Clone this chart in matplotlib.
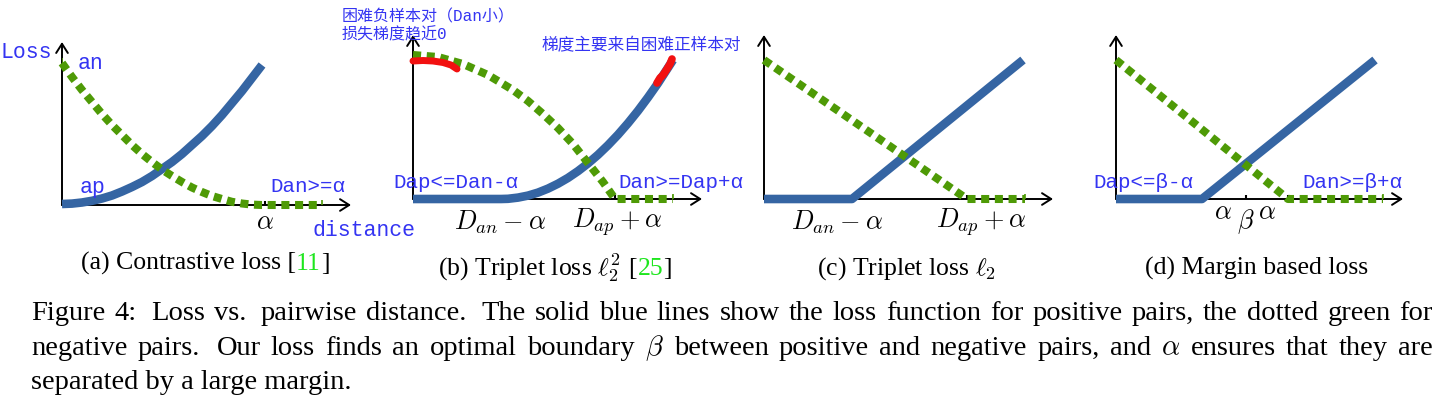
import matplotlib
matplotlib.use('Agg')
import matplotlib.pyplot as plt

W, H = 1439, 399
plt.rcParams['mathtext.fontset'] = 'cm'

BLUE = '#3565a3'
GREEN = '#4e9a06'
RED = '#f21010'
TXT = '#3434f2'
CITE = '#1ee61e'
MONO = ['Liberation Mono', 'Noto Sans CJK SC']
SERIF = 'Liberation Serif'

# (a) contrastive loss, units: distance / loss
a_pos_x = [0, 0.1, 0.2, 0.3, 0.4, 0.5, 0.6, 0.7, 0.8, 0.9, 1.0, 1.1, 1.2, 1.3, 1.4,
           1.5, 1.6, 1.7, 1.8, 1.9, 2.0]
a_pos_y = [0.01, 0.014, 0.025, 0.042, 0.065, 0.095, 0.135, 0.18, 0.23, 0.29, 0.36,
           0.43, 0.51, 0.60, 0.69, 0.79, 0.90, 1.02, 1.14, 1.27, 1.40]
a_neg_x = [0, 0.1, 0.2, 0.3, 0.4, 0.5, 0.6, 0.7, 0.8, 0.9, 1.0, 1.1, 1.2, 1.3,
           1.4, 1.5, 1.6, 1.7, 1.8, 1.9, 2.0, 2.6]
a_neg_y = [1.42, 1.28, 1.15, 1.03, 0.91, 0.80, 0.70, 0.60, 0.51, 0.43, 0.355, 0.29,
           0.23, 0.175, 0.13, 0.09, 0.06, 0.032, 0.015, 0.004, 0.0, 0.0]
a_ticks = [2.03]

# (b) triplet loss l2^2
b_pos_x = [0, 0.88, 0.95, 1.05, 1.15, 1.25, 1.35, 1.45, 1.55, 1.65, 1.75, 1.85,
           1.95, 2.05, 2.15, 2.25, 2.35, 2.45, 2.6]
b_pos_y = [0, 0, 0.002, 0.014, 0.034, 0.064, 0.104, 0.153, 0.211, 0.279, 0.356,
           0.442, 0.538, 0.643, 0.758, 0.882, 1.016, 1.158, 1.39]
b_neg_x = [0, 0.25, 0.5, 0.75, 1.0, 1.15, 1.3, 1.45, 1.6, 1.75, 1.9, 2.02, 2.6]
b_neg_y = [1.44, 1.42, 1.35, 1.24, 1.09, 0.98, 0.85, 0.71, 0.55, 0.36, 0.17, 0.0, 0.0]
b_red1_x = [0, 0.1, 0.2, 0.3, 0.38, 0.44]
b_red1_y = [1.38, 1.385, 1.38, 1.365, 1.34, 1.30]
b_red2_x = [2.44, 2.47, 2.5, 2.54, 2.57, 2.59]
b_red2_y = [1.16, 1.21, 1.24, 1.30, 1.35, 1.40]
b_ticks = [0.88, 2.02]

# (c) triplet loss l2
c_pos_x = [0, 0.88, 2.59]
c_pos_y = [0, 0, 1.39]
c_neg_x = [0, 2.03, 2.61]
c_neg_y = [1.39, 0, 0]
c_ticks = [0.88, 2.03]

# (d) margin based loss
d_pos_x = [0, 0.86, 2.59]
d_pos_y = [0, 0, 1.39]
d_neg_x = [0, 1.72, 2.67]
d_neg_y = [1.39, 0, 0]
d_ticks = [1.30, 1.72]

caption1 = ('Figure 4: Loss vs. pairwise distance. The solid blue lines show the loss '
            'function for positive pairs, the dotted green for')
caption2 = ('negative pairs. Our loss finds an optimal boundary $\\beta$ between positive '
            'and negative pairs, and $\\alpha$ ensures that they are')
caption3 = 'separated by a large margin.'

fig = plt.figure(figsize=(W / 100, H / 100), dpi=100)
rend = fig.canvas.get_renderer()


def panel(ox, oy, lx, ly):
    ax = fig.add_axes([ox / W, 1 - oy / H, lx * 100 / W, ly * 100 / H])
    ax.set_xlim(0, lx)
    ax.set_ylim(0, ly)
    ax.axis('off')
    ap = dict(arrowstyle='->,head_length=0.55,head_width=0.35', lw=1.4, color='k',
              shrinkA=0, shrinkB=0, mutation_scale=12)
    ax.annotate('', xy=(lx, 0), xytext=(0, 0), arrowprops=ap, zorder=1)
    ax.annotate('', xy=(0, ly), xytext=(0, 0), arrowprops=ap, zorder=1)
    return ax


def curves(ax, px, py, nx, ny, ticks):
    ax.plot(px, py, color=BLUE, lw=6.2, solid_capstyle='butt', solid_joinstyle='round',
            clip_on=False, zorder=3)
    ax.plot(nx, ny, color=GREEN, lw=5.8, dashes=(1, 0.7), dash_capstyle='butt',
            clip_on=False, zorder=4)
    ax.vlines(nx[-1], ny[-1] - 0.05, ny[-1] + 0.05, color=GREEN, lw=1.2, zorder=4)
    ax.vlines(ticks, -0.04, 0.04, color='k', lw=1.5, zorder=2)


def label(ax, x, y, s, size=15, ha='left', color=TXT, family=MONO):
    ax.text(x, y, s, fontsize=size, ha=ha, va='center', color=color, family=family,
            clip_on=False, zorder=6)


def math(ax, x, y, s, size=19):
    ax.text(x, y, s, fontsize=size, ha='center', va='center', color='k', zorder=6)


def rich_row(parts, cx, y, fs=18.5):
    ts = [fig.text(0, 1 - y / H, s, color=c, fontsize=fs, family=SERIF, va='baseline')
          for s, c in parts]
    ws = [t.get_window_extent(rend).width for t in ts]
    x = cx - sum(ws) / 2
    for t, w in zip(ts, ws):
        t.set_x(x / W)
        x += w


def justify(line, y, x0=31, x1=1433, fs=20.5):
    words = line.split(' ')
    ts = [fig.text(0, 1 - y / H, w, fontsize=fs, family=SERIF, va='baseline') for w in words]
    ws = [t.get_window_extent(rend).width for t in ts]
    weights = [1.6 if w.endswith('.') or w.endswith(':') else 1.0 for w in words[:-1]]
    gap = (x1 - x0 - sum(ws)) / sum(weights)
    x = x0
    for i, (t, w) in enumerate(zip(ts, ws)):
        t.set_x(x / W)
        if i < len(weights):
            x += w + gap * weights[i]


# (a)
ax = panel(62, 205, 2.89, 1.63)
curves(ax, a_pos_x, a_pos_y, a_neg_x, a_neg_y, a_ticks)
ax.vlines(a_neg_x[0], a_neg_y[0] - 0.05, a_neg_y[0] + 0.05, color=GREEN, lw=1.2, zorder=4)
label(ax, -0.10, 1.53, 'Loss', size=15.5, ha='right')
label(ax, 0.16, 1.42, 'an', size=15.5)
label(ax, 0.18, 0.18, 'ap', size=15.5)
label(ax, 2.08, 0.18, 'Dan>=α')
label(ax, 2.51, -0.25, 'distance', size=15.5)
math(ax, 2.03, -0.17, r'$\alpha$')

# (b)
ax = panel(413, 199, 2.89, 1.64)
curves(ax, b_pos_x, b_pos_y, b_neg_x, b_neg_y, b_ticks)
ax.plot(b_red1_x, b_red1_y, color=RED, lw=5, solid_capstyle='round', clip_on=False, zorder=5)
ax.plot(b_red2_x, b_red2_y, color=RED, lw=5.5, solid_capstyle='round', clip_on=False, zorder=5)
label(ax, -0.20, 0.17, 'Dap<=Dan-α')
label(ax, 2.05, 0.17, 'Dan>=Dap+α')
label(ax, -0.71, 1.82, '困难负样本对（Dan小）', size=11.5)
label(ax, -0.71, 1.64, '损失梯度趋近0', size=11.5)
label(ax, 1.29, 1.54, '梯度主要来自困难正样本对', size=12)
math(ax, 0.87, -0.23, r'$D_{an}-\alpha$')
math(ax, 2.04, -0.23, r'$D_{ap}+\alpha$')

# (c)
ax = panel(764, 199, 2.89, 1.64)
curves(ax, c_pos_x, c_pos_y, c_neg_x, c_neg_y, c_ticks)
math(ax, 0.73, -0.23, r'$D_{an}-\alpha$')
math(ax, 2.17, -0.23, r'$D_{ap}+\alpha$')

# (d)
ax = panel(1116, 199, 2.87, 1.64)
curves(ax, d_pos_x, d_pos_y, d_neg_x, d_neg_y, d_ticks)
label(ax, -0.23, 0.17, 'Dap<=β-α')
label(ax, 1.86, 0.17, 'Dan>=β+α')
math(ax, 1.07, -0.13, r'$\alpha$')
math(ax, 1.30, -0.23, r'$\beta$')
math(ax, 1.51, -0.13, r'$\alpha$')

# sub captions
rich_row([('(a) Contrastive loss [', 'k'), ('11', CITE), (']', 'k')], 205, 270)
rich_row([('(b) Triplet loss $\\ell_2^2$ [', 'k'), ('25', CITE), (']', 'k')], 555, 275)
rich_row([('(c) Triplet loss $\\ell_2$', 'k')], 906, 275)
rich_row([('(d) Margin based loss', 'k')], 1257, 275)

# figure caption
justify(caption1, 320)
justify(caption2, 355)
fig.text(31 / W, 1 - 389 / H, caption3, fontsize=20.5, family=SERIF, va='baseline')

fig.savefig('out.png', dpi=100)
